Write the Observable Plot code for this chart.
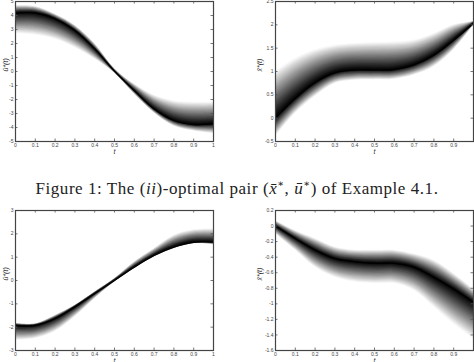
<!DOCTYPE html>
<html><head><meta charset="utf-8">
<script src="https://cdn.jsdelivr.net/npm/d3@7"></script>
<script src="https://cdn.jsdelivr.net/npm/@observablehq/plot@0.6"></script>
<style>
html,body{margin:0;padding:0;background:#fff;}
#wrap{position:relative;width:474px;height:362px;overflow:hidden;background:#fff;}
.panel{position:absolute;}
#caption{position:absolute;left:0;width:474px;top:175px;text-align:center;font-family:"Liberation Serif","DejaVu Serif",serif;font-size:17px;letter-spacing:0.55px;color:#222;line-height:18px;white-space:nowrap;}
#caption sup{font-size:10px;}
</style></head><body>
<div id="wrap">
  <div class="panel" id="pA" style="left:0;top:0"></div>
  <div class="panel" id="pB" style="left:237px;top:0"></div>
  <div class="panel" id="pC" style="left:0;top:209px"></div>
  <div class="panel" id="pD" style="left:237px;top:209px"></div>
  <div id="caption">Figure 1: The (<i>ii</i>)-optimal pair (<i>x̄</i><sup>∗</sup>, <i>ū</i><sup>∗</sup>) of Example 4.1.</div>
</div>
<script>
// time grid
const T = [0, 0.1, 0.2, 0.3, 0.4, 0.5, 0.6, 0.7, 0.8, 0.9, 1];

// top-left: u*(t)
const uA_center = [4.17, 4.17, 3.76, 2.93, 1.62, 0.03, -1.36, -2.67, -3.5, -3.79, -3.74];
const uA_upper  = [4.7, 4.65, 4.1, 3.3, 2.0, 0.2, -0.9, -1.7, -2.1, -2.2, -2.2];
const uA_lower  = [2.7, 2.6, 2.3, 1.7, 0.9, -0.1, -1.6, -2.95, -3.9, -4.25, -4.45];

// top-right: x*(t)
const xB_center = [0, 0.42, 0.76, 0.97, 1.03, 1.03, 1.04, 1.14, 1.35, 1.67, 2.03];
const xB_upper  = [1.0, 1.28, 1.46, 1.56, 1.6, 1.62, 1.63, 1.67, 1.81, 2.0, 2.07];
const xB_lower  = [-0.4, 0.1, 0.46, 0.74, 0.81, 0.82, 0.83, 0.92, 1.1, 1.46, 1.99];

// bottom-left: u*(t)
const uC_center = [-1.93, -1.93, -1.64, -1.14, -0.57, 0, 0.57, 1.07, 1.43, 1.64, 1.64];
const uC_upper  = [-1.83, -1.86, -1.5, -1.07, -0.5, 0.07, 0.79, 1.36, 1.93, 2.17, 2.21];
const uC_lower  = [-2.57, -2.5, -2.2, -1.57, -0.79, -0.07, 0.5, 1.0, 1.36, 1.57, 1.53];

// bottom-right: x*(t)
const xD_center = [0, -0.16, -0.31, -0.42, -0.46, -0.48, -0.48, -0.53, -0.66, -0.81, -0.98];
const xD_upper  = [0.07, -0.06, -0.16, -0.27, -0.31, -0.31, -0.31, -0.36, -0.44, -0.61, -0.81];
const xD_lower  = [-0.1, -0.31, -0.53, -0.66, -0.72, -0.74, -0.74, -0.83, -1.04, -1.26, -1.45];

// tick labels
const xTicksLeft  = [0, 0.1, 0.2, 0.3, 0.4, 0.5, 0.6, 0.7, 0.8, 0.9, 1];
const xTicksRight = [0, 0.1, 0.2, 0.3, 0.4, 0.5, 0.6, 0.7, 0.8, 0.9];
const yTicksA = [-5, -4, -3, -2, -1, 0, 1, 2, 3, 4, 5];
const yTicksB = [-0.5, 0, 0.5, 1, 1.5, 2, 2.5];
const yTicksC = [-3, -2, -1, 0, 1, 2, 3];
const yTicksD = [-1.6, -1.4, -1.2, -1, -0.8, -0.6, -0.4, -0.2, 0, 0.2];

function panel(id, o) {
  const N = 26;
  const W = 237, H = 160;
  const fw = W - o.mL - o.mR, fh = H - o.mT - o.mB;
  const marks = [];
  for (let k = 0; k < N; k++) {
    const f = 1 - k / N;
    const rows = T.map((t, i) => ({t, a: o.C[i] + (o.U[i] - o.C[i]) * f, b: o.C[i] - (o.C[i] - o.L[i]) * f}));
    const g = Math.round(248 * Math.pow(f, 1.1));
    marks.push(Plot.areaY(rows, {x: "t", y1: "a", y2: "b", fill: `rgb(${g},${g},${g})`, curve: "catmull-rom", clip: true}));
  }
  marks.push(Plot.lineY(T.map((t, i) => ({t, v: o.C[i]})), {x: "t", y: "v", stroke: "#000", strokeWidth: 1.3, curve: "catmull-rom", clip: true}));
  // inward ticks (MATLAB style box)
  marks.push(Plot.tickX(o.xTicks, {x: d => d, insetTop: fh - 2.5, stroke: "#555", strokeWidth: 0.8}));
  marks.push(Plot.tickX(o.xTicks, {x: d => d, insetBottom: fh - 2.5, stroke: "#555", strokeWidth: 0.8}));
  marks.push(Plot.tickY(o.yTicks, {y: d => d, insetRight: fw - 2.5, stroke: "#555", strokeWidth: 0.8}));
  marks.push(Plot.tickY(o.yTicks, {y: d => d, insetLeft: fw - 2.5, stroke: "#555", strokeWidth: 0.8}));
  marks.push(Plot.frame({stroke: "#444", strokeWidth: 1.2}));
  marks.push(Plot.axisX(o.xTicks, {tickSize: 0, tickPadding: 2, fontSize: 5, fill: "#444", label: null, tickFormat: d => String(d)}));
  marks.push(Plot.axisY(o.yTicks, {tickSize: 0, tickPadding: 2, fontSize: 5, fill: "#444", label: null, tickFormat: d => String(d)}));
  marks.push(Plot.text(["t"], {frameAnchor: "bottom", dy: 12, fontSize: 7, fontStyle: "italic", fill: "#333"}));
  marks.push(Plot.text([o.ylabel], {frameAnchor: "left", dx: -o.yl, rotate: -90, fontSize: 7, fontStyle: "italic", fill: "#333"}));
  const svg = Plot.plot({
    width: W, height: H,
    marginLeft: o.mL, marginRight: o.mR, marginTop: o.mT, marginBottom: o.mB,
    x: {domain: [0, 1]},
    y: {domain: o.yDomain},
    style: {fontFamily: "'Liberation Sans', Arial, sans-serif", background: "transparent", overflow: "visible"},
    marks
  });
  document.getElementById(id).appendChild(svg);
}

panel("pA", {C: uA_center, U: uA_upper, L: uA_lower, yDomain: [-5, 5], yTicks: yTicksA, xTicks: xTicksLeft, ylabel: "ū*(t)", mL: 15, mR: 24, mT: 1, mB: 19, yl: 10});
panel("pB", {C: xB_center, U: xB_upper, L: xB_lower, yDomain: [-0.5, 2.5], yTicks: yTicksB, xTicks: xTicksRight, ylabel: "x̄*(t)", mL: 38, mR: 1, mT: 1, mB: 19, yl: 16});
panel("pC", {C: uC_center, U: uC_upper, L: uC_lower, yDomain: [-3, 3], yTicks: yTicksC, xTicks: xTicksLeft, ylabel: "ū*(t)", mL: 15, mR: 24, mT: 1, mB: 19, yl: 10});
panel("pD", {C: xD_center, U: xD_upper, L: xD_lower, yDomain: [-1.6, 0.2], yTicks: yTicksD, xTicks: xTicksRight, ylabel: "x̄*(t)", mL: 38, mR: 1, mT: 1, mB: 19, yl: 16});
</script>
</body></html>
